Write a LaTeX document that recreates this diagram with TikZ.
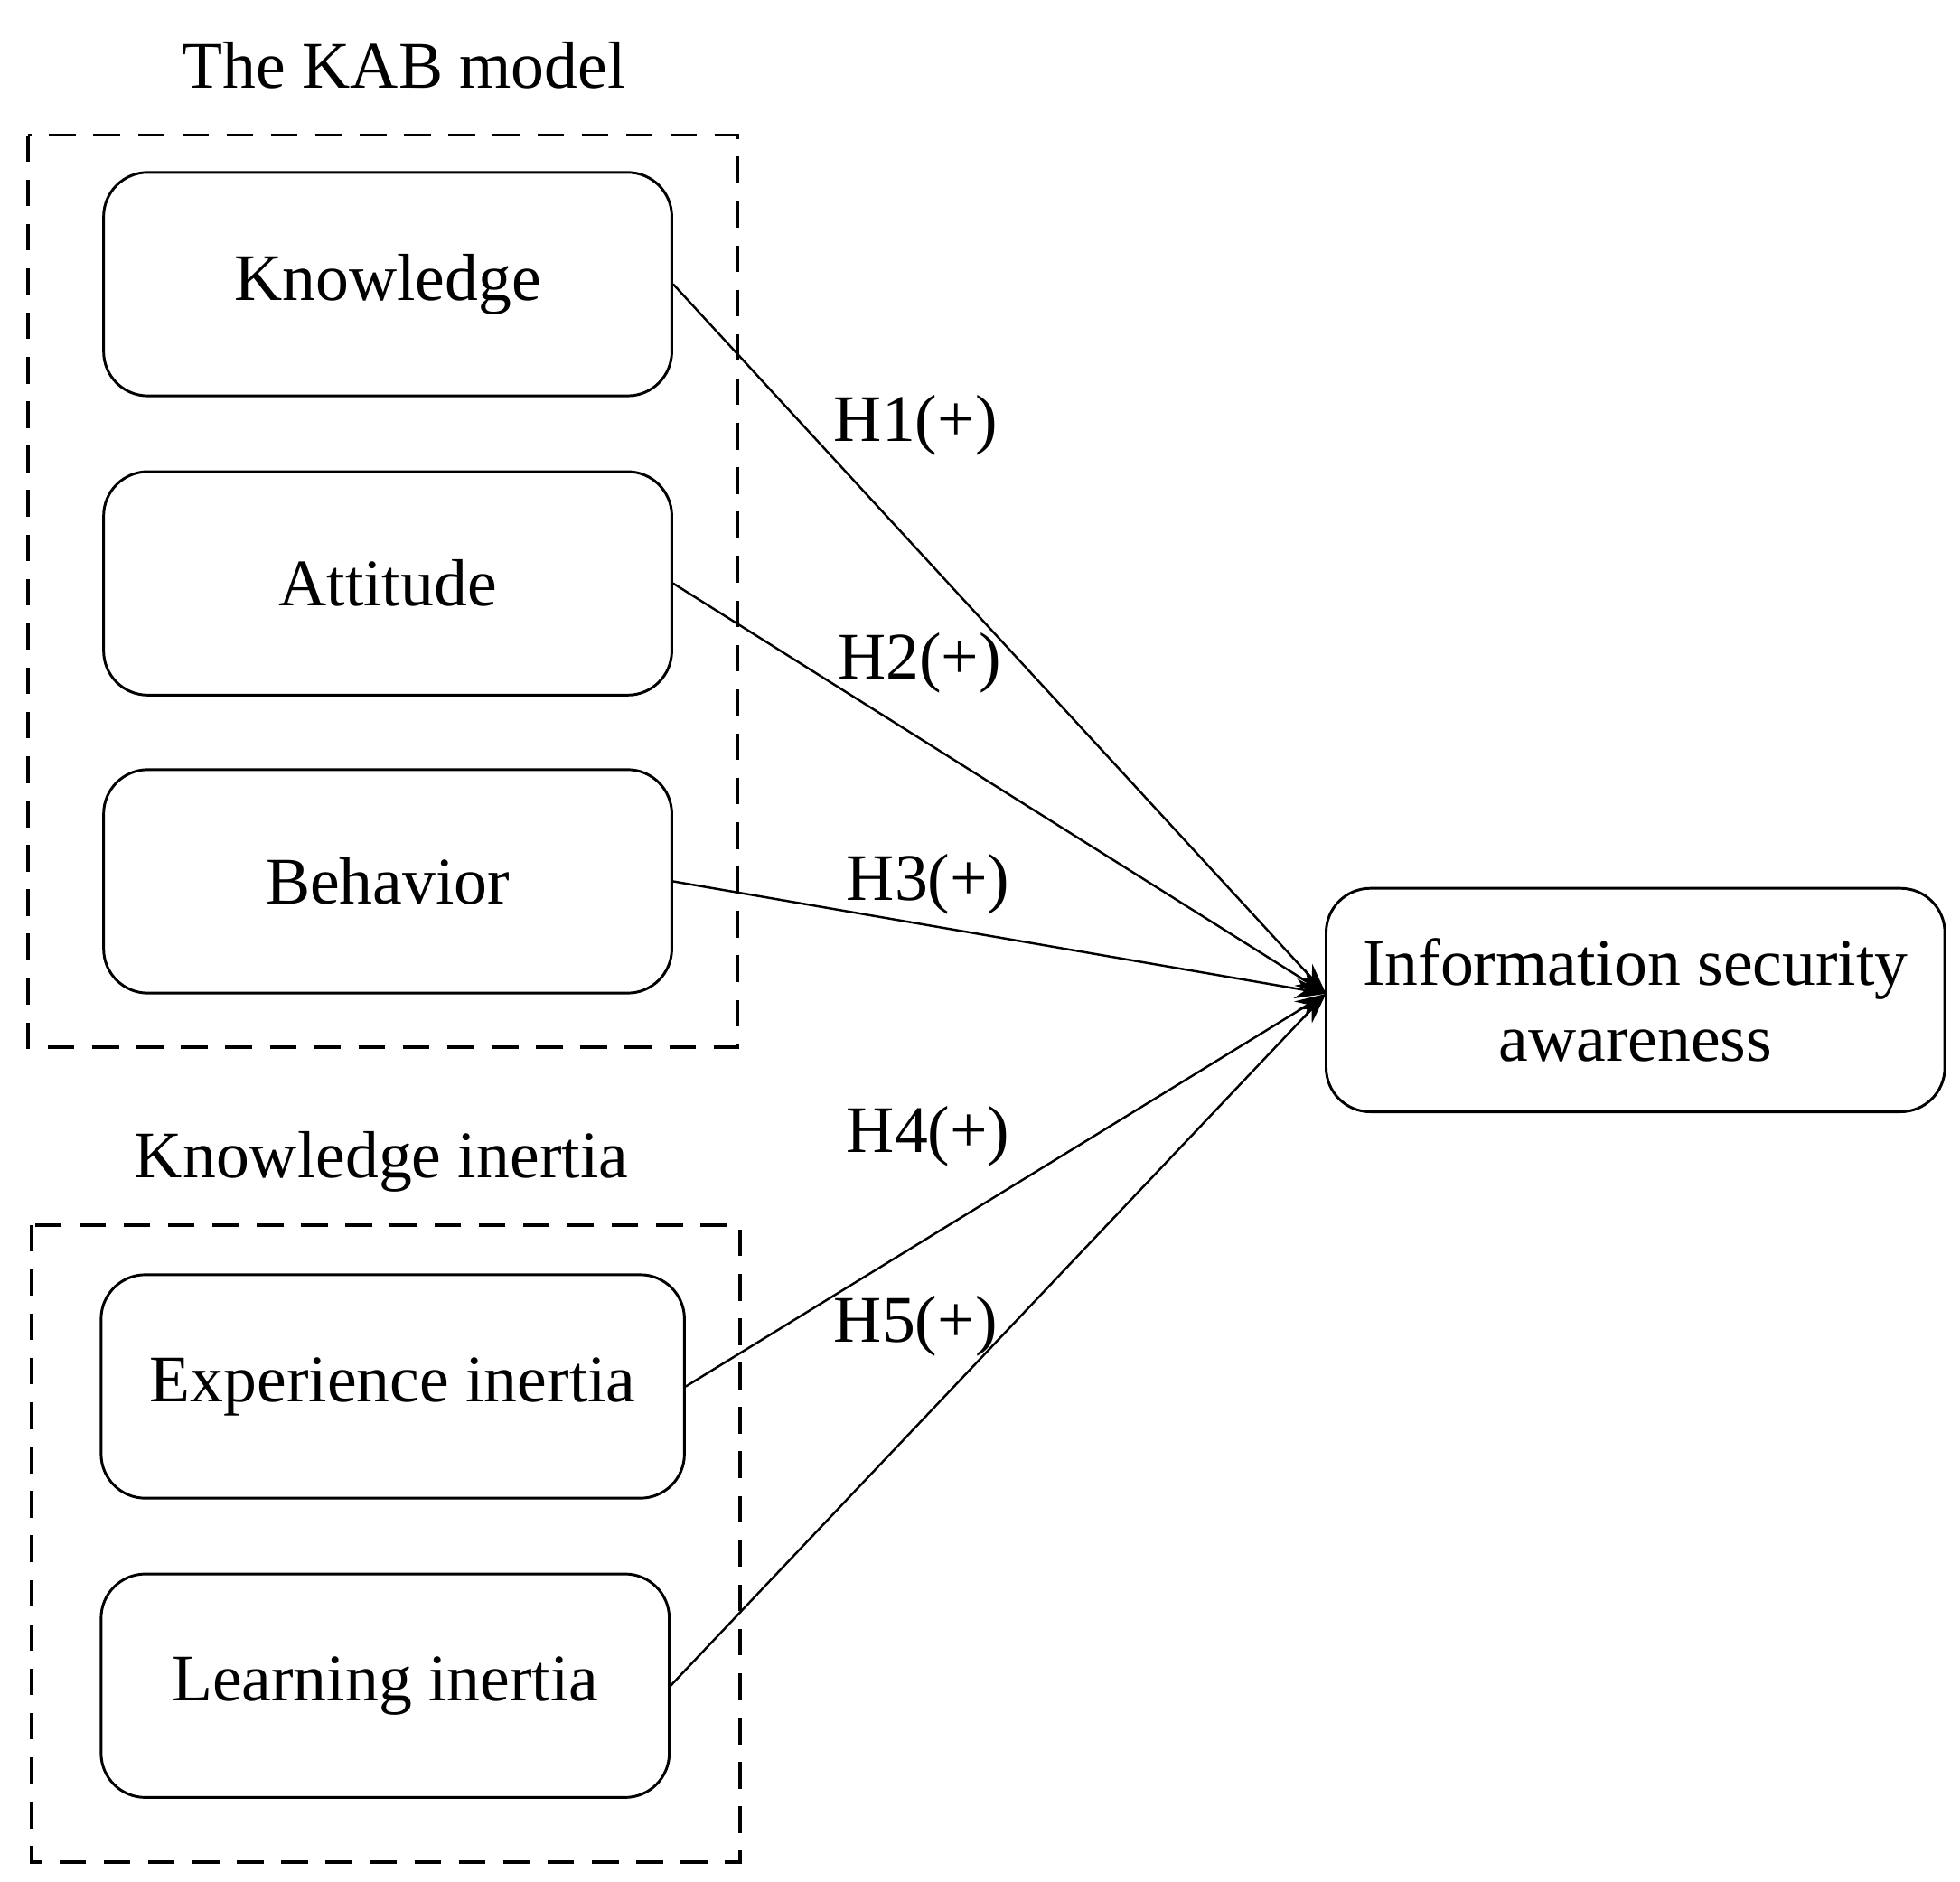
\documentclass[tikz,border=0pt]{standalone}
\usepackage{fontspec}
\setmainfont{Liberation Serif}
\usetikzlibrary{arrows.meta}
\begin{document}
\begin{tikzpicture}[x=0.02cm,y=-0.02cm,
  box/.style={draw,line width=1.2pt,rounded corners=0.7cm,inner sep=0pt,align=center,font=\fontsize{30}{34}\selectfont},
  dashbox/.style={draw,line width=1.6pt,dash pattern=on 12pt off 8pt},
  lab/.style={font=\fontsize{30}{34}\selectfont},
  con/.style={line width=1pt,-{Stealth[length=14pt,width=9pt]}}]
\useasboundingbox (0,0) rectangle (1552,1490);
\draw[dashbox] (22,107) rectangle (584,829);
\draw[dashbox] (25,970) rectangle (586,1475);
\node[lab] (t1) at (320,52) {The KAB model};
\node[lab] (t2) at (302,920) {Knowledge inertia};
\node[box,minimum width=9cm,minimum height=3.54cm] (k) at (307,225) {Knowledge};
\node[box,minimum width=9cm,minimum height=3.54cm] (a) at (307,462) {Attitude};
\node[box,minimum width=9cm,minimum height=3.54cm] (b) at (307,698) {Behavior};
\node[box,minimum width=9.24cm,minimum height=3.54cm] (e) at (311,1098) {Experience inertia};
\node[box,minimum width=9cm,minimum height=3.54cm] (l) at (305,1335) {Learning inertia};
\node[box,minimum width=9.8cm,minimum height=3.54cm] (isa) at (1295,792) {Information security\\awareness};
\coordinate (tip) at (1050,787);
\draw[con] (k.east) -- (tip);
\draw[con] (a.east) -- (tip);
\draw[con] (b.east) -- (tip);
\draw[con] (e.east) -- (tip);
\draw[con] (l.east) -- (tip);
\node[lab] (h1) at (725,337) {H1(+)};
\node[lab] (h2) at (728,525) {H2(+)};
\node[lab] (h3) at (735,700) {H3(+)};
\node[lab] (h4) at (735,900) {H4(+)};
\node[lab] (h5) at (725,1050) {H5(+)};
\end{tikzpicture}
\end{document}
